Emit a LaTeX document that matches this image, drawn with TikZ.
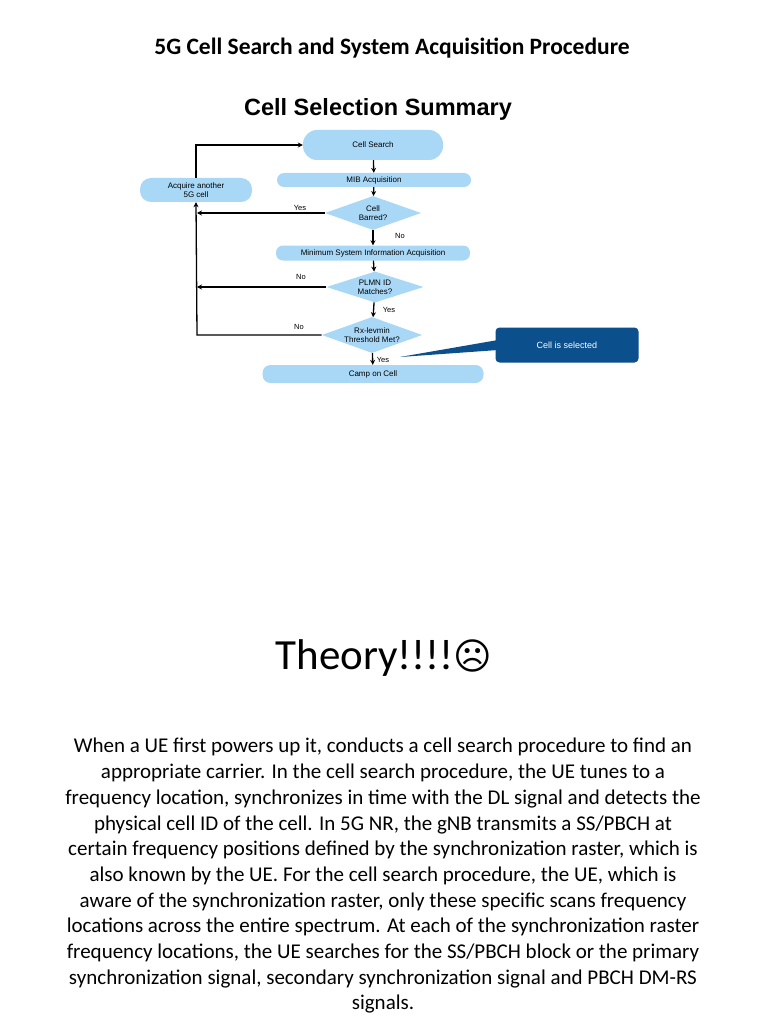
\documentclass[tikz,border=0pt]{standalone}
\usepackage{fontspec}
\setmainfont{Carlito}
\newfontfamily\arialf{Liberation Sans}
\newfontfamily\djv{DejaVu Sans}
\usetikzlibrary{shapes.geometric,arrows.meta}
\definecolor{lb}{HTML}{A9D8F7}
\definecolor{db}{HTML}{0B4F8C}
\begin{document}
\begin{tikzpicture}[x=1pt,y=-1pt,
 pill/.style={fill=lb,rounded corners=7pt,font=\arialf\fontsize{8}{9}\selectfont,align=center,inner sep=0pt},
 dia/.style={diamond,fill=lb,aspect=3,inner sep=0pt,font=\arialf\fontsize{8}{9}\selectfont,align=center},
 arr/.style={draw,line width=1.3pt,-{Stealth[length=5pt,width=5pt]}},
 lab/.style={font=\arialf\fontsize{7.5}{8}\selectfont}]
\useasboundingbox (0,0) rectangle (768,1024);
\fill[white] (0,0) rectangle (768,1024);
\node[font=\bfseries\fontsize{23.5}{26}\selectfont] (t1) at (392,48) {5G Cell Search and System Acquisition Procedure};
\node[font=\arialf\bfseries\fontsize{23.5}{26}\selectfont] (t2) at (378,109) {Cell Selection Summary};
\node[pill,minimum width=140pt,minimum height=30pt,rounded corners=14pt] (cs) at (373,145) {Cell Search};
\node[pill,minimum width=194pt,minimum height=14pt] (mib) at (374,180) {MIB Acquisition};
\node[pill,minimum width=112pt,minimum height=24pt,rounded corners=11pt] (acq) at (196,190) {Acquire another\\5G cell};
\node[dia,minimum width=96pt,minimum height=34pt] (cb) at (373,213) {Cell\\Barred?};
\node[pill,minimum width=194pt,minimum height=15pt] (ms) at (373,253) {Minimum System Information Acquisition};
\node[dia,minimum width=97pt,minimum height=31pt] (pl) at (375,287) {PLMN ID\\Matches?};
\node[dia,minimum width=97pt,minimum height=36pt] (rx) at (372,335) {Rx-levmin\\Threshold Met?};
\node[pill,minimum width=221pt,minimum height=18pt,rounded corners=8pt] (camp) at (373,374) {Camp on Cell};
\fill[db] (400,357) -- (498,350) -- (498,340) -- cycle;
\node[fill=db,text=white,rounded corners=4pt,minimum width=143pt,minimum height=35pt,font=\arialf\fontsize{9}{10}\selectfont] (sel) at (567,345) {Cell is selected};
\draw[arr] (cs) -- (mib);
\draw[arr] (mib) -- (cb);
\draw[arr] (cb) -- (ms);
\draw[arr] (ms) -- (pl);
\draw[arr] (pl) -- (rx);
\draw[arr] (rx) -- (camp);
\coordinate (j1) at (197,213);
\coordinate (j2) at (197,287);
\coordinate (j3) at (197,335);
\draw[arr] (cb.west) -- (j1);
\draw[arr] (pl.west) -- (j2);
\draw[arr] (rx.west) -- (j3) -- (acq.south);
\draw[arr] (acq.north) |- (cs.west);
\node[lab] (y1) at (300,208) {Yes};
\node[lab] (n1) at (400,236) {No};
\node[lab] (n2) at (301,277) {No};
\node[lab] (y2) at (389,310) {Yes};
\node[lab] (n3) at (299,327) {No};
\node[lab] (y3) at (383,360) {Yes};
\node[font=\fontsize{43}{48}\selectfont] (th) at (384,658) {Theory!!!!{\djv\fontsize{37}{40}\selectfont ☹}};
\node[font=\fontsize{21}{25.7}\selectfont,align=center] (body) at (383,876) {When a UE first powers up it, conducts a cell search procedure to find an\\appropriate carrier. In the cell search procedure, the UE tunes to a\\frequency location, synchronizes in time with the DL signal and detects the\\physical cell ID of the cell. In 5G NR, the gNB transmits a SS/PBCH at\\certain frequency positions defined by the synchronization raster, which is\\also known by the UE. For the cell search procedure, the UE, which is\\aware of the synchronization raster, only these specific scans frequency\\locations across the entire spectrum. At each of the synchronization raster\\frequency locations, the UE searches for the SS/PBCH block or the primary\\synchronization signal, secondary synchronization signal and PBCH DM-RS\\signals.};
\end{tikzpicture}
\end{document}
